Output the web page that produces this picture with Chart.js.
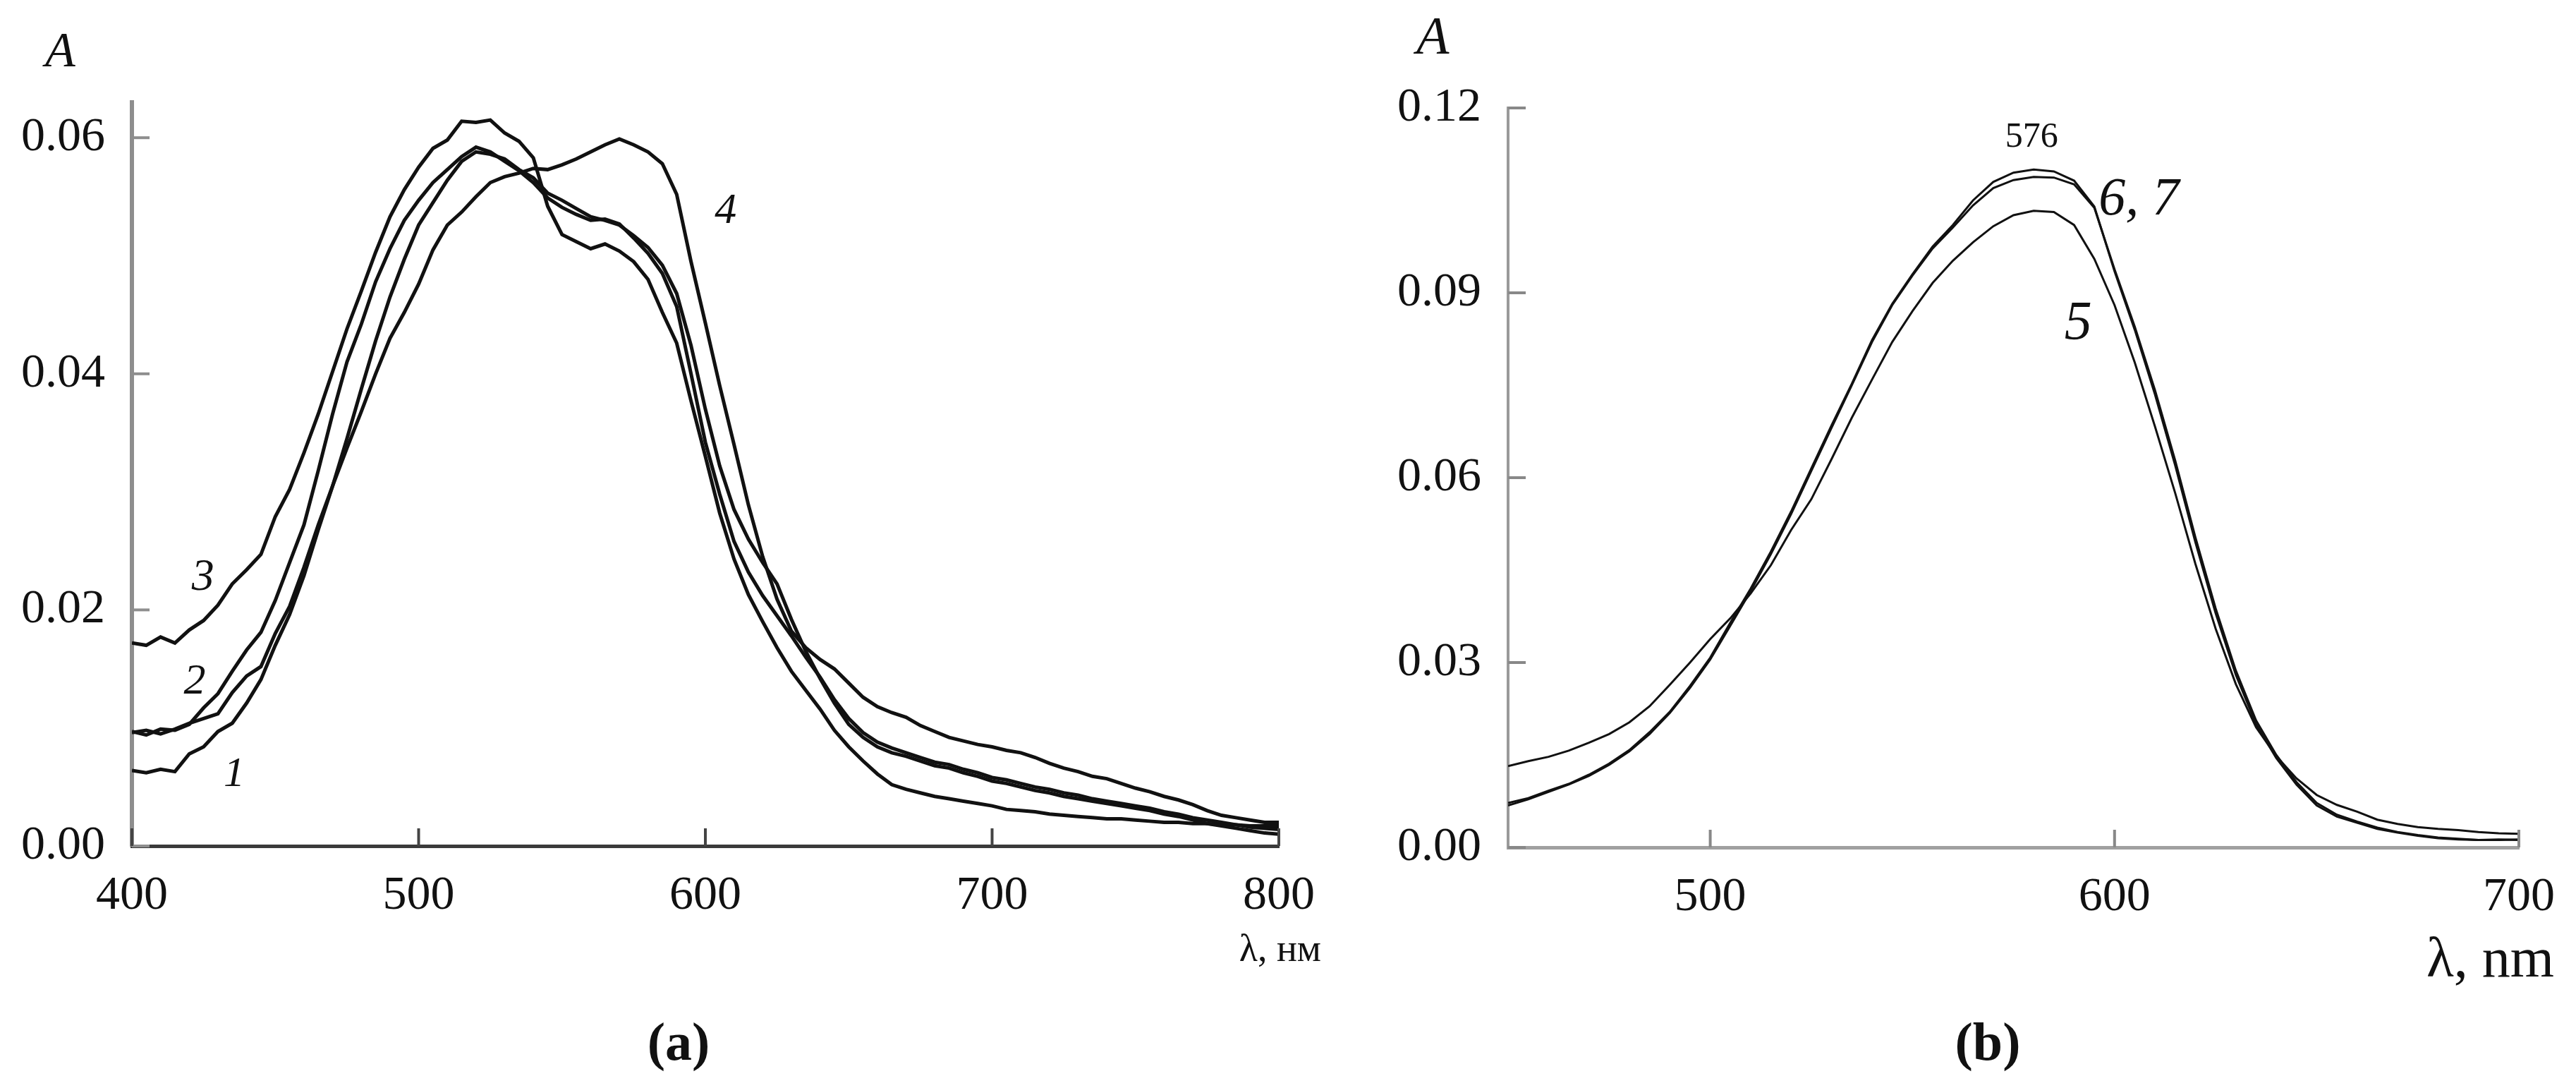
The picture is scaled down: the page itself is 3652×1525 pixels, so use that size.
<!DOCTYPE html>
<html>
<head>
<meta charset="utf-8">
<script src="https://cdn.jsdelivr.net/npm/chart.js@4.4.1/dist/chart.umd.min.js"></script>
<style>
  html, body { margin: 0; padding: 0; background: #fff; }
  body { width: 3652px; height: 1525px; position: relative; overflow: hidden; }
  canvas { position: absolute; top: 0; }
  #chart-a { left: 0; }
  #chart-b { left: 1900px; }
</style>
</head>
<body>
<canvas id="chart-a" width="1900" height="1525"></canvas>
<canvas id="chart-b" width="1752" height="1525"></canvas>
<script>
// ---- panel (a): wavelength, nm
const lambdaA = [
    400, 405, 410, 415, 420, 425, 430, 435, 440, 445,
    450, 455, 460, 465, 470, 475, 480, 485, 490, 495,
    500, 505, 510, 515, 520, 525, 530, 535, 540, 545,
    550, 555, 560, 565, 570, 575, 580, 585, 590, 595,
    600, 605, 610, 615, 620, 625, 630, 635, 640, 645,
    650, 655, 660, 665, 670, 675, 680, 685, 690, 695,
    700, 705, 710, 715, 720, 725, 730, 735, 740, 745,
    750, 755, 760, 765, 770, 775, 780, 785, 790, 795,
    800,
];

const curve1 = [
    0.0064, 0.0062, 0.0065, 0.0063, 0.0078, 0.0084, 0.0097, 0.0104, 0.0121, 0.0141,
    0.0170, 0.0196, 0.0229, 0.0268, 0.0305, 0.0345, 0.0387, 0.0428, 0.0465, 0.0497,
    0.0526, 0.0545, 0.0564, 0.0580, 0.0588, 0.0586, 0.0582, 0.0573, 0.0566, 0.0553,
    0.0547, 0.0540, 0.0533, 0.0530, 0.0526, 0.0517, 0.0507, 0.0492, 0.0468, 0.0424,
    0.0370, 0.0322, 0.0285, 0.0260, 0.0240, 0.0222, 0.0192, 0.0165, 0.0142, 0.0121,
    0.0103, 0.0092, 0.0084, 0.0079, 0.0076, 0.0072, 0.0068, 0.0066, 0.0062, 0.0059,
    0.0055, 0.0053, 0.0050, 0.0047, 0.0045, 0.0042, 0.0040, 0.0038, 0.0036, 0.0034,
    0.0032, 0.0030, 0.0027, 0.0025, 0.0022, 0.0019, 0.0017, 0.0015, 0.0013, 0.0011,
    0.0010,
];

const curve2 = [
    0.0097, 0.0094, 0.0099, 0.0098, 0.0103, 0.0117, 0.0129, 0.0148, 0.0166, 0.0181,
    0.0208, 0.0240, 0.0272, 0.0318, 0.0366, 0.0410, 0.0442, 0.0478, 0.0506, 0.0530,
    0.0547, 0.0562, 0.0573, 0.0584, 0.0592, 0.0588, 0.0580, 0.0572, 0.0562, 0.0549,
    0.0541, 0.0535, 0.0530, 0.0531, 0.0527, 0.0515, 0.0502, 0.0485, 0.0457, 0.0400,
    0.0342, 0.0298, 0.0258, 0.0232, 0.0212, 0.0195, 0.0178, 0.0160, 0.0143, 0.0124,
    0.0108, 0.0096, 0.0088, 0.0083, 0.0079, 0.0075, 0.0071, 0.0069, 0.0065, 0.0062,
    0.0058, 0.0056, 0.0053, 0.0050, 0.0048, 0.0045, 0.0043, 0.0040, 0.0038, 0.0036,
    0.0034, 0.0032, 0.0029, 0.0027, 0.0024, 0.0022, 0.0020, 0.0018, 0.0016, 0.0015,
    0.0014,
];

const curve3 = [
    0.0172, 0.0170, 0.0177, 0.0172, 0.0183, 0.0191, 0.0204, 0.0222, 0.0234, 0.0247,
    0.0279, 0.0302, 0.0333, 0.0366, 0.0402, 0.0438, 0.0470, 0.0503, 0.0533, 0.0556,
    0.0575, 0.0591, 0.0598, 0.0614, 0.0613, 0.0615, 0.0604, 0.0597, 0.0583, 0.0542,
    0.0518, 0.0512, 0.0506, 0.0510, 0.0504, 0.0495, 0.0480, 0.0452, 0.0426, 0.0377,
    0.0330, 0.0282, 0.0243, 0.0213, 0.0190, 0.0168, 0.0148, 0.0132, 0.0116, 0.0098,
    0.0084, 0.0072, 0.0061, 0.0052, 0.0048, 0.0045, 0.0042, 0.0040, 0.0038, 0.0036,
    0.0034, 0.0031, 0.0030, 0.0029, 0.0027, 0.0026, 0.0025, 0.0024, 0.0023, 0.0023,
    0.0022, 0.0021, 0.0020, 0.0020, 0.0019, 0.0019, 0.0018, 0.0018, 0.0017, 0.0017,
    0.0017,
];

const curve4 = [
    0.0096, 0.0098, 0.0095, 0.0099, 0.0104, 0.0108, 0.0112, 0.0130, 0.0144, 0.0152,
    0.0180, 0.0203, 0.0236, 0.0272, 0.0305, 0.0337, 0.0368, 0.0400, 0.0430, 0.0452,
    0.0476, 0.0505, 0.0526, 0.0537, 0.0550, 0.0562, 0.0567, 0.0570, 0.0574, 0.0573,
    0.0577, 0.0582, 0.0588, 0.0594, 0.0599, 0.0594, 0.0588, 0.0578, 0.0552, 0.0495,
    0.0443, 0.0390, 0.0340, 0.0289, 0.0245, 0.0209, 0.0182, 0.0168, 0.0158, 0.0150,
    0.0138, 0.0126, 0.0118, 0.0113, 0.0109, 0.0102, 0.0097, 0.0092, 0.0089, 0.0086,
    0.0084, 0.0081, 0.0079, 0.0075, 0.0070, 0.0066, 0.0063, 0.0059, 0.0057, 0.0053,
    0.0049, 0.0046, 0.0042, 0.0039, 0.0035, 0.0030, 0.0026, 0.0024, 0.0022, 0.0020,
    0.0020,
];

const xTicksA = [400, 500, 600, 700, 800];
const yTicksA = [0, 0.02, 0.04, 0.06];

// ---- panel (b)
const lambdaB = [
    450, 455, 460, 465, 470, 475, 480, 485, 490, 495,
    500, 505, 510, 515, 520, 525, 530, 535, 540, 545,
    550, 555, 560, 565, 570, 575, 580, 585, 590, 595,
    600, 605, 610, 615, 620, 625, 630, 635, 640, 645,
    650, 655, 660, 665, 670, 675, 680, 685, 690, 695,
    700,
];

const curve5 = [
    0.0132, 0.0140, 0.0147, 0.0157, 0.0170, 0.0184, 0.0203, 0.0229, 0.0264, 0.0300,
    0.0338, 0.0372, 0.0412, 0.0458, 0.0515, 0.0565, 0.0630, 0.0697, 0.0759, 0.0820,
    0.0870, 0.0916, 0.0952, 0.0982, 0.1008, 0.1026, 0.1033, 0.1031, 0.1010, 0.0955,
    0.0880, 0.0787, 0.0683, 0.0575, 0.0460, 0.0355, 0.0265, 0.0195, 0.0148, 0.0112,
    0.0085, 0.0069, 0.0058, 0.0045, 0.0038, 0.0033, 0.0030, 0.0028, 0.0025, 0.0023,
    0.0022,
];

const curve6 = [
    0.0072, 0.0080, 0.0092, 0.0103, 0.0118, 0.0136, 0.0158, 0.0187, 0.0220, 0.0262,
    0.0308, 0.0365, 0.0420, 0.0480, 0.0545, 0.0615, 0.0685, 0.0752, 0.0823, 0.0882,
    0.0930, 0.0975, 0.1010, 0.1050, 0.1080, 0.1095, 0.1100, 0.1097, 0.1082, 0.1040,
    0.0935, 0.0840, 0.0735, 0.0620, 0.0495, 0.0380, 0.0280, 0.0200, 0.0145, 0.0102,
    0.0068, 0.0050, 0.0040, 0.0030, 0.0024, 0.0019, 0.0015, 0.0013, 0.0012, 0.0012,
    0.0013,
];

const curve7 = [
    0.0068, 0.0078, 0.0090, 0.0102, 0.0116, 0.0134, 0.0156, 0.0184, 0.0218, 0.0259,
    0.0305, 0.0360, 0.0416, 0.0476, 0.0541, 0.0611, 0.0681, 0.0750, 0.0820, 0.0880,
    0.0928, 0.0972, 0.1006, 0.1042, 0.1070, 0.1083, 0.1088, 0.1087, 0.1076, 0.1038,
    0.0938, 0.0845, 0.0742, 0.0628, 0.0503, 0.0388, 0.0287, 0.0206, 0.0150, 0.0106,
    0.0072, 0.0053, 0.0042, 0.0032, 0.0025, 0.0020, 0.0016, 0.0014, 0.0012, 0.0013,
    0.0012,
];

const xTicksB = [500, 600, 700];
const yTicksB = [0, 0.03, 0.06, 0.09, 0.12];

const SERIF = '"Liberation Serif", "Times New Roman", serif';

function toPoints(xs, ys) {
    return xs.map((x, i) => ({ x: x, y: ys[i] }));
}

function lineSet(label, xs, ys, width) {
    return {
        label: label,
        data: toPoints(xs, ys),
        borderColor: "#111",
        borderWidth: width,
        pointRadius: 0,
        tension: 0,
        fill: false,
    };
}

function fixTicks(values) {
    return function (scale) {
        scale.ticks = values.map((v) => ({ value: v }));
    };
}

// short tick marks drawn inward from the axes
const innerTicks = {
    id: "innerTicks",
    afterDatasetsDraw(chart, args, opts) {
        const { ctx, chartArea, scales } = chart;
        ctx.save();
        ctx.lineWidth = opts.width;
        ctx.strokeStyle = opts.yColor;
        for (const t of scales.y.ticks) {
            const py = scales.y.getPixelForValue(t.value);
            ctx.beginPath();
            ctx.moveTo(chartArea.left, py);
            ctx.lineTo(chartArea.left + opts.length, py);
            ctx.stroke();
        }
        ctx.strokeStyle = opts.xColor;
        for (const t of scales.x.ticks) {
            const px = scales.x.getPixelForValue(t.value);
            ctx.beginPath();
            ctx.moveTo(px, chartArea.bottom);
            ctx.lineTo(px, chartArea.bottom - opts.length);
            ctx.stroke();
        }
        ctx.restore();
    },
};

// curve numbers (placed in data units) and axis captions (canvas pixels)
const figureText = {
    id: "figureText",
    afterDraw(chart, args, opts) {
        const { ctx, scales } = chart;
        ctx.save();
        ctx.fillStyle = "#111";
        ctx.textBaseline = "alphabetic";
        for (const t of opts.onData) {
            ctx.font = t.font;
            ctx.textAlign = "center";
            ctx.fillText(t.text, scales.x.getPixelForValue(t.x), scales.y.getPixelForValue(t.y));
        }
        for (const t of opts.onCanvas) {
            ctx.font = t.font;
            ctx.textAlign = t.align;
            ctx.fillText(t.text, t.px, t.py);
        }
        ctx.restore();
    },
};

function makeConfig(p) {
    return {
        type: "line",
        data: { datasets: p.datasets },
        options: {
            responsive: false,
            animation: false,
            devicePixelRatio: 1,
            layout: { padding: p.padding },
            plugins: {
                legend: { display: false },
                tooltip: { enabled: false },
                innerTicks: p.tickMarks,
                figureText: p.text,
            },
            scales: {
                x: {
                    type: "linear",
                    min: p.xMin,
                    max: p.xMax,
                    afterBuildTicks: fixTicks(p.xTicks),
                    afterFit: (scale) => { scale.height = p.xAxisHeight; },
                    grid: { display: false, drawTicks: false },
                    border: { display: true, color: p.xAxisColor, width: p.xAxisWidth },
                    ticks: {
                        color: "#111",
                        padding: 30,
                        maxRotation: 0,
                        font: { family: SERIF, size: 68 },
                        callback: (v) => String(v),
                    },
                },
                y: {
                    type: "linear",
                    min: 0,
                    max: p.yMax,
                    afterBuildTicks: fixTicks(p.yTicks),
                    afterFit: (scale) => { scale.width = p.yAxisWidth; },
                    grid: { display: false, drawTicks: false },
                    border: { display: true, color: p.yAxisColor, width: p.yAxisLineWidth },
                    ticks: {
                        color: "#111",
                        padding: 38,
                        font: { family: SERIF, size: 68 },
                        callback: (v) => Number(v).toFixed(2),
                    },
                },
            },
        },
        plugins: [innerTicks, figureText],
    };
}

const italic = (size) => `italic ${size}px ${SERIF}`;

new Chart(document.getElementById("chart-a"), makeConfig({
    datasets: [
        lineSet("1", lambdaA, curve1, 5),
        lineSet("2", lambdaA, curve2, 5),
        lineSet("3", lambdaA, curve3, 5),
        lineSet("4", lambdaA, curve4, 5),
    ],
    padding: { left: 0, right: 87, top: 145, bottom: 0 },
    xMin: 400,
    xMax: 800,
    yMax: 0.063,
    xTicks: xTicksA,
    yTicks: yTicksA,
    xAxisHeight: 326,
    yAxisWidth: 187,
    xAxisColor: "#3a3a3a",
    xAxisWidth: 5,
    yAxisColor: "#8e8e8e",
    yAxisLineWidth: 6,
    tickMarks: { length: 25, width: 4, xColor: "#444", yColor: "#8e8e8e" },
    text: {
        onData: [
            { text: "1", x: 435.7, y: 0.0051, font: italic(60) },
            { text: "2", x: 421.9, y: 0.0129, font: italic(62) },
            { text: "3", x: 424.8, y: 0.0217, font: italic(64) },
            { text: "4", x: 607.1, y: 0.0528, font: italic(62) },
        ],
        onCanvas: [
            { text: "A", px: 64, py: 94, align: "left", font: italic(70) },
            { text: "λ, нм", px: 1873, py: 1362, align: "right", font: `54px ${SERIF}` },
            { text: "(a)", px: 962, py: 1502, align: "center", font: `bold 76px ${SERIF}` },
        ],
    },
}));

new Chart(document.getElementById("chart-b"), makeConfig({
    datasets: [
        lineSet("5", lambdaB, curve5, 3),
        lineSet("6", lambdaB, curve6, 3),
        lineSet("7", lambdaB, curve7, 3),
    ],
    padding: { left: 0, right: 65, top: 153, bottom: 0 },
    xMin: 450,
    xMax: 700,
    yMax: 0.12,
    xTicks: xTicksB,
    yTicks: yTicksB,
    xAxisHeight: 324,
    yAxisWidth: 238,
    xAxisColor: "#a0a0a0",
    xAxisWidth: 5,
    yAxisColor: "#9a9a9a",
    yAxisLineWidth: 4,
    tickMarks: { length: 25, width: 4, xColor: "#888", yColor: "#888" },
    text: {
        onData: [
            { text: "576", x: 579.5, y: 0.1137, font: `50px ${SERIF}` },
            { text: "6, 7", x: 606, y: 0.1027, font: italic(76) },
            { text: "5", x: 591, y: 0.0826, font: italic(78) },
        ],
        onCanvas: [
            { text: "A", px: 108, py: 76, align: "left", font: italic(76) },
            { text: "λ, nm", px: 1721, py: 1384, align: "right", font: `80px ${SERIF}` },
            { text: "(b)", px: 918, py: 1502, align: "center", font: `bold 76px ${SERIF}` },
        ],
    },
}));
</script>
</body>
</html>
